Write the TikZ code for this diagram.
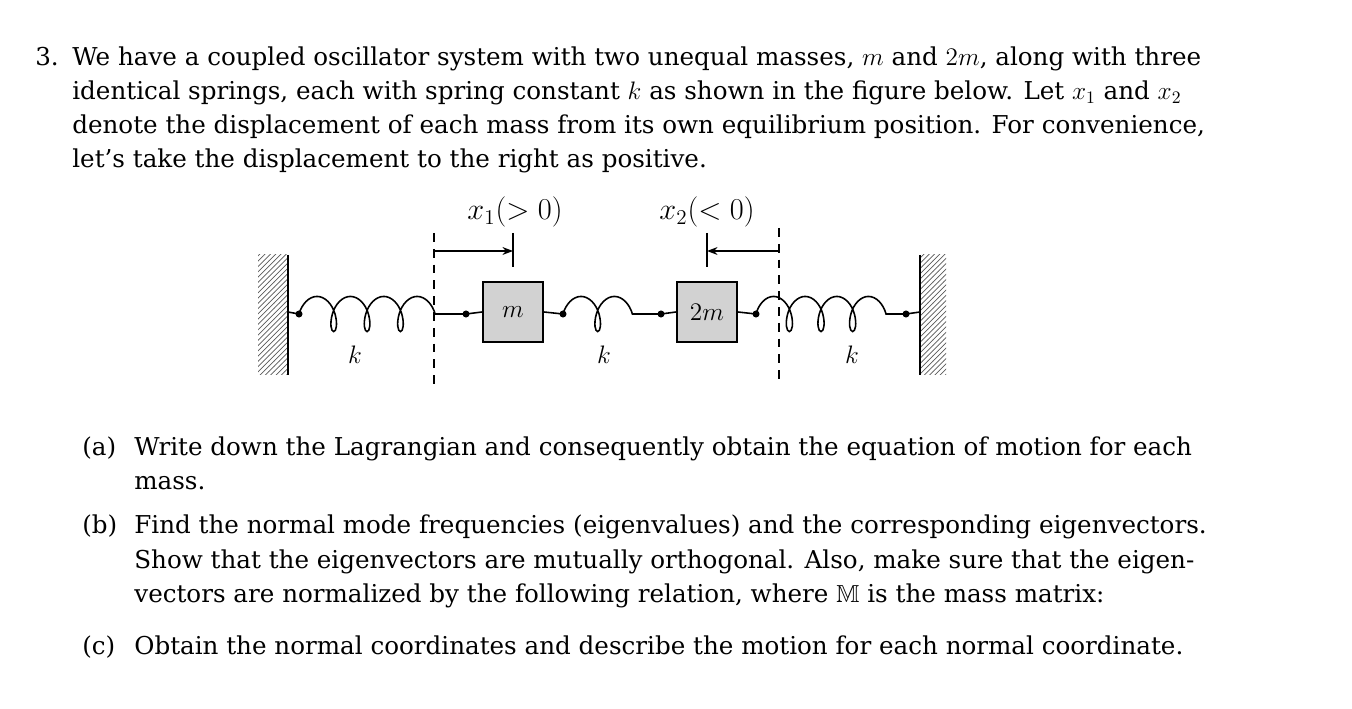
\documentclass[tikz,border=0pt]{standalone}
\usepackage{fontspec}
\usepackage{amssymb}
\setmainfont{DejaVu Serif}
\usetikzlibrary{decorations.pathmorphing,patterns,arrows.meta}
\begin{document}
\begin{tikzpicture}[x=0.02cm,y=-0.02cm,
  txt/.style={anchor=base west,inner sep=0,font=\fontsize{14}{16}\selectfont},
  massbox/.style={draw,line width=1.2pt,fill=gray!35,minimum width=60*0.02cm,minimum height=60*0.02cm,inner sep=0,font=\fontsize{15}{18}\selectfont},
  wallbox/.style={pattern=north east lines,pattern color=gray!70!black},
  springc/.style={decorate,decoration={coil,amplitude=10pt,segment length=#1,aspect=0.55},line width=0.9pt},
  dashln/.style={dashed,line width=0.6pt,dash pattern=on 5pt off 4pt},
  lbl/.style={font=\fontsize{15}{18}\selectfont,inner sep=0}]
\useasboundingbox (0,0) rectangle (1352,709);
% text
\node[txt] (t0) at (35,66) {3.};
\node[txt] (t1) at (72,66) {We have a coupled oscillator system with two unequal masses, $m$ and $2m$, along with three};
\node[txt] (t2) at (72,100) {identical springs, each with spring constant $k$ as shown in the figure below. Let $x_1$ and $x_2$};
\node[txt] (t3) at (72,134) {denote the displacement of each mass from its own equilibrium position. For convenience,};
\node[txt] (t4) at (72,168) {let’s take the displacement to the right as positive.};
\node[txt] (a0) at (82,455) {(a)};
\node[txt] (a1) at (134,455) {Write down the Lagrangian and consequently obtain the equation of motion for each};
\node[txt] (a2) at (134,489) {mass.};
\node[txt] (b0) at (82,533) {(b)};
\node[txt] (b1) at (134,533) {Find the normal mode frequencies (eigenvalues) and the corresponding eigenvectors.};
\node[txt] (b2) at (134,568) {Show that the eigenvectors are mutually orthogonal. Also, make sure that the eigen-};
\node[txt] (b3) at (134,602) {vectors are normalized by the following relation, where $\mathbb{M}$ is the mass matrix:};
\node[txt] (c0) at (82,654) {(c)};
\node[txt] (c1) at (134,654) {Obtain the normal coordinates and describe the motion for each normal coordinate.};
% walls
\fill[wallbox] (258,255) rectangle (288,375);
\draw[line width=1.5pt] (288,255) -- (288,375);
\fill[wallbox] (920,255) rectangle (946,375);
\draw[line width=1.5pt] (920,255) -- (920,375);
\coordinate (wL) at (288,312);
\coordinate (wR) at (920,312);
% masses
\node[massbox] (m1) at (513,312) {$m$};
\node[massbox] (m2) at (707,312) {$2m$};
% spring endpoints
\coordinate (s1a) at (299,314); \coordinate (s1b) at (466,314);
\coordinate (s2a) at (563,314); \coordinate (s2b) at (661,314);
\coordinate (s3a) at (756,314); \coordinate (s3b) at (906,314);
\draw[line width=0.9pt] (wL) -- (s1a) (s1b) -- (m1.west) (m1.east) -- (s2a) (s2b) -- (m2.west) (m2.east) -- (s3a) (s3b) -- (wR);
\draw[springc=19pt] (s1a) -- (s1b);
\draw[springc=19pt] (s2a) -- (s2b);
\draw[springc=18pt] (s3a) -- (s3b);
\foreach \p in {s1a,s1b,s2a,s2b,s3a,s3b} \fill (\p) circle (2pt);
% labels
\node[lbl] (k1) at (355,355) {$k$};
\node[lbl] (k2) at (604,355) {$k$};
\node[lbl] (k3) at (852,355) {$k$};
% displacement markers
\coordinate (d1t) at (434,233); \coordinate (d1b) at (434,385);
\coordinate (d2t) at (779,228); \coordinate (d2b) at (779,385);
\draw[dashln] (d1t) -- (d1b);
\draw[dashln] (d2t) -- (d2b);
\coordinate (e1t) at (513,233); \coordinate (e1b) at (513,267);
\coordinate (e2t) at (707,233); \coordinate (e2b) at (707,267);
\draw[line width=0.6pt] (e1t) -- (e1b);
\draw[line width=0.6pt] (e2t) -- (e2b);
\coordinate (a1s) at (434,251); \coordinate (a1e) at (513,251);
\coordinate (a2s) at (779,251); \coordinate (a2e) at (707,251);
\draw[line width=0.8pt,-{Stealth[length=6pt]}] (a1s) -- (a1e);
\draw[line width=0.8pt,-{Stealth[length=6pt]}] (a2s) -- (a2e);
\node[lbl,font=\fontsize{17}{20}\selectfont] (x1) at (515,212) {$x_1(>0)$};
\node[lbl,font=\fontsize{17}{20}\selectfont] (x2) at (707,212) {$x_2(<0)$};
\end{tikzpicture}
\end{document}
